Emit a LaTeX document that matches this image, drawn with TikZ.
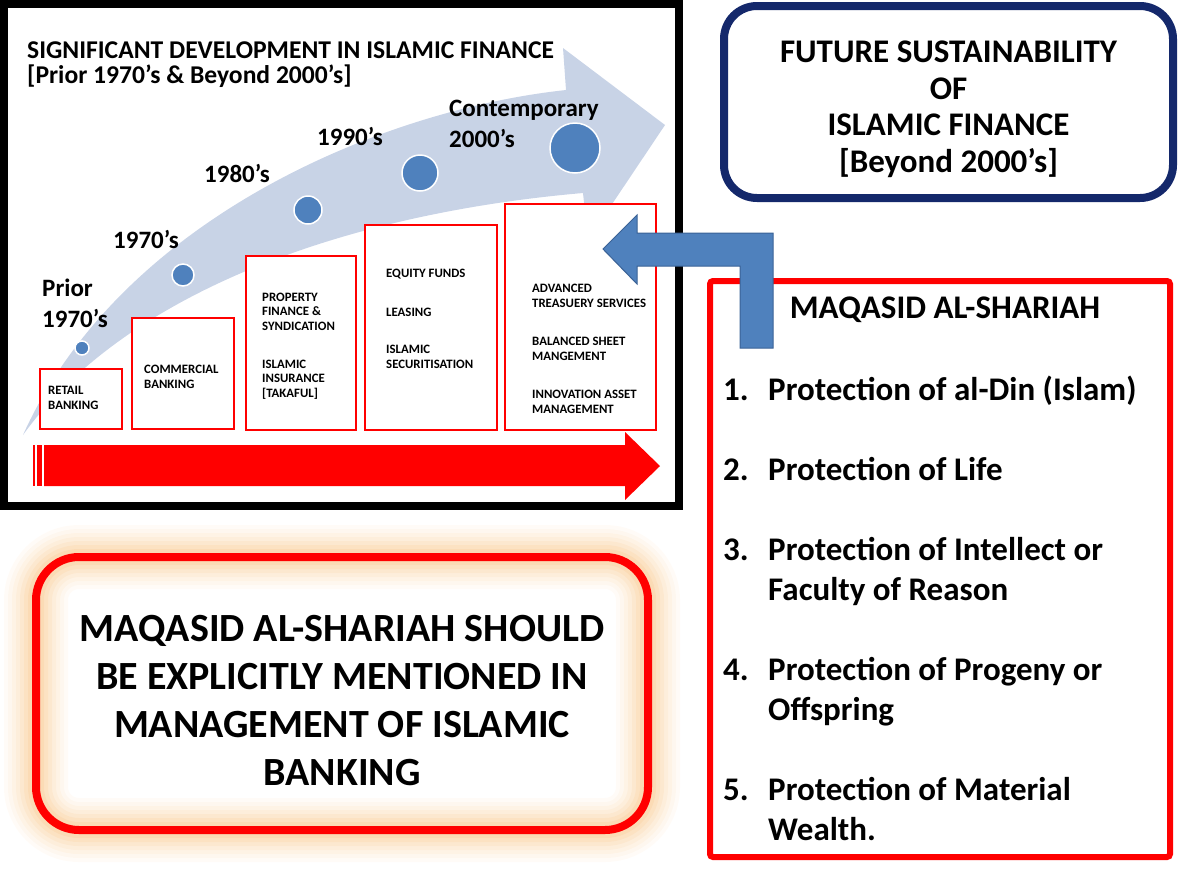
\documentclass[tikz,border=0pt]{standalone}
\usepackage{fontspec}
\setmainfont{Carlito}
\usepackage{tikz}
\usetikzlibrary{arrows.meta,calc,positioning}
\definecolor{StageRed}{HTML}{FF0000}
\definecolor{BandBlue}{HTML}{C8D3E6}
\definecolor{DotBlue}{HTML}{4F81BD}
\definecolor{DotEdge}{HTML}{3A6296}
\definecolor{FutureNavy}{HTML}{14286B}
\definecolor{GlowOrange}{HTML}{F7B566}

\begin{document}
\begin{tikzpicture}[x=1pt,y=-1pt,
  panel/.style={draw=black,line width=8pt,minimum width=675pt,minimum height=502pt,inner sep=0pt},
  stage/.style={draw=StageRed,line width=2pt,fill=white,inner sep=0pt},
  stagetext/.style={anchor=base west,align=left,inner sep=0pt,font=\fontsize{12.8}{14.3}\selectfont\bfseries},
  heading/.style={anchor=base west,inner sep=0pt,font=\fontsize{25.6}{30}\selectfont\bfseries},
  era/.style={anchor=base west,align=left,inner sep=0pt,font=\fontsize{25}{31}\selectfont\bfseries},
  dot/.style={circle,fill=DotBlue,draw=white,line width=1.5pt,inner sep=0pt},
  futurebox/.style={draw=FutureNavy,line width=8pt,rounded corners=33pt,minimum width=449pt,minimum height=192pt,inner sep=0pt},
  futuretext/.style={anchor=base,align=center,inner sep=0pt,font=\fontsize{33}{36.5}\selectfont\bfseries},
  maqbox/.style={draw=StageRed,line width=6pt,rounded corners=3pt,minimum width=460pt,minimum height=576pt,inner sep=0pt},
  maqtitle/.style={anchor=base,inner sep=0pt,font=\fontsize{33}{40}\selectfont\bfseries},
  itemnum/.style={anchor=base west,inner sep=0pt,font=\fontsize{33}{40}\selectfont\bfseries},
  itemtext/.style={anchor=base west,align=left,inner sep=0pt,font=\fontsize{33}{40}\selectfont\bfseries},
  shouldbox/.style={draw=StageRed,line width=8pt,rounded corners=43pt,minimum width=612pt,minimum height=273pt,inner sep=0pt},
  shouldtext/.style={anchor=base,align=center,inner sep=0pt,font=\fontsize{40}{47.7}\selectfont\bfseries},
  bent/.style={fill=DotBlue,draw=DotEdge,line width=1pt,line join=miter}
]
\useasboundingbox (0,0) rectangle (1178,879);

\fill[BandBlue] (23,435) .. controls (120,300) and (330,215) .. (583,193) -- (588,240) -- (665,125)
  -- (563,48) -- (566,90) .. controls (380,110) and (120,220) .. (23,435) -- cycle;

\node[dot,minimum size=14pt] (dotPrior) at (82,348) {};
\node[dot,minimum size=22pt] (dot70) at (183,275) {};
\node[dot,minimum size=28pt] (dot80) at (308,210) {};
\node[dot,minimum size=36pt] (dot90) at (420,173) {};
\node[dot,minimum size=50pt] (dotNow) at (575,148) {};

\node[stage,minimum width=82pt,minimum height=60pt] (retail) at (81,399) {};
\node[stage,minimum width=102pt,minimum height=111pt] (commercial) at (183,373.5) {};
\node[stage,minimum width=110pt,minimum height=174pt] (property) at (301,343) {};
\node[stage,minimum width=132pt,minimum height=205pt] (equity) at (431,327.5) {};
\node[stage,minimum width=151pt,minimum height=226pt] (advanced) at (580.5,317) {};

\node[heading] (devTitle) at (27,58) {SIGNIFICANT DEVELOPMENT IN ISLAMIC FINANCE};
\node[heading] (devSpan) at (27,83) {[Prior 1970’s \& Beyond 2000’s]};
\node[era] (eraPrior) at (42,327) {Prior\\1970’s};
\node[era] (era70) at (113,248) {1970’s};
\node[era] (era80) at (204,182) {1980’s};
\node[era] (era90) at (317,145) {1990’s};
\node[era] (eraNow) at (449,147) {Contemporary\\2000’s};

\node[stagetext] (retailText) at (48,409) {RETAIL\\BANKING};
\node[stagetext] (commercialText) at (144,388) {COMMERCIAL\\BANKING};
\node[stagetext] (propertyText) at (262,330) {PROPERTY\\FINANCE \&\\SYNDICATION};
\node[stagetext] (takafulText) at (262,397) {ISLAMIC\\INSURANCE\\{[}TAKAFUL{]}};
\node[stagetext] (equityText) at (386,277) {EQUITY FUNDS};
\node[stagetext] (leasingText) at (386,316) {LEASING};
\node[stagetext] (sukukText) at (386,368) {ISLAMIC\\SECURITISATION};
\node[stagetext] (treasuryText) at (532,307) {ADVANCED\\TREASUERY SERVICES};
\node[stagetext] (balanceText) at (532,360) {BALANCED SHEET\\MANGEMENT};
\node[stagetext] (assetText) at (532,413) {INNOVATION ASSET\\MANAGEMENT};

\coordinate (timeTail) at (44,445);
\fill[StageRed] (timeTail) -- (625,445) -- (625,432) -- (660,466) -- (625,500) -- (625,486) -- (44,486) -- cycle;
\fill[StageRed] (33,445) rectangle (35,486);
\fill[StageRed] (37,445) rectangle (42,486);

\node[panel] (devPanel) at (341.5,255) {};

\node[futurebox] (future) at (948.5,102) {};
\node[futuretext] (futureText) at (948.5,172) {FUTURE SUSTAINABILITY\\OF\\ISLAMIC FINANCE\\{[}Beyond 2000’s{]}};

\foreach \w/\o in {64/0.05,56/0.06,48/0.07,40/0.08,32/0.1,24/0.12,16/0.14}
  \draw[GlowOrange,line width=\w pt,opacity=\o,rounded corners=43pt] (36,557) rectangle (648,830);
\node[shouldbox] (shouldBox) at (342,693.5) {};
\node[shouldtext] (shouldText) at (342,785) {MAQASID AL-SHARIAH SHOULD\\BE EXPLICITLY MENTIONED IN\\MANAGEMENT OF ISLAMIC\\BANKING};

\node[maqbox] (maqasid) at (940,569) {};
\node[maqtitle] (maqTitle) at (945,318) {MAQASID AL-SHARIAH};
\node[itemnum] (num1) at (723,400) {1.};
\node[itemtext] (item1) at (768,400) {Protection of al-Din (Islam)};
\node[itemnum] (num2) at (723,480) {2.};
\node[itemtext] (item2) at (768,480) {Protection of Life};
\node[itemnum] (num3) at (723,560) {3.};
\node[itemtext] (item3) at (768,600) {Protection of Intellect or\\Faculty of Reason};
\node[itemnum] (num4) at (723,680) {4.};
\node[itemtext] (item4) at (768,720) {Protection of Progeny or\\Offspring};
\node[itemnum] (num5) at (723,800) {5.};
\node[itemtext] (item5) at (768,840) {Protection of Material\\Wealth.};

\coordinate (bendTip) at (603,249);
\draw[bent] (bendTip) -- ++(34,-34) -- ++(0,18) -- ++(136,0) -- ++(0,115) -- ++(-33,0)
  -- ++(0,-82) -- ++(-103,0) -- ++(0,18) -- cycle;
\end{tikzpicture}
\end{document}
